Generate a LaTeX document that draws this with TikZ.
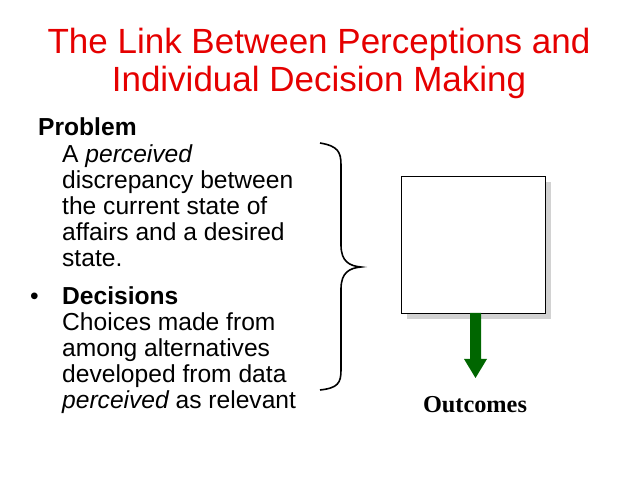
\documentclass[tikz,border=0pt]{standalone}
\usepackage{fontspec}
\setmainfont{Liberation Sans}
\newfontfamily\serif{Liberation Serif}
\begin{document}
\begin{tikzpicture}[x=1pt,y=-1pt,
  ttl/.style={text=red!90!black,font=\fontsize{35}{40}\selectfont,align=center},
  body/.style={anchor=base west,inner sep=0,font=\fontsize{24.6}{28}\selectfont}]
\useasboundingbox (0,0) rectangle (638,478);
\node[ttl] (t1) at (319,44) {The Link Between Perceptions and};
\node[ttl] (t2) at (319,82) {Individual Decision Making};
\node[body] (p) at (38,136) {\bfseries Problem};
\node[body] (l1) at (62,163) {A \itshape perceived};
\node[body] (l2) at (62,189) {discrepancy between};
\node[body] (l3) at (62,215) {the current state of};
\node[body] (l4) at (62,241) {affairs and a desired};
\node[body] (l5) at (62,267) {state.};
\node[body] (b) at (30,305) {•};
\node[body] (d) at (62,305) {\bfseries Decisions};
\node[body] (m1) at (62,331) {Choices made from};
\node[body] (m2) at (62,357) {among alternatives};
\node[body] (m3) at (62,383) {developed from data};
\node[body] (m4) at (62,409) {\itshape perceived\upshape{} as relevant};
\draw[line width=1.6pt] (320,143) .. controls (338,146) and (341,152) .. (341,165)
  -- (341,245) .. controls (341,262) and (350,266) .. (361,267)
  .. controls (350,268) and (341,272) .. (341,289) -- (341,370)
  .. controls (341,383) and (338,388) .. (320,390);
\fill[gray!35] (407,182) rectangle (551,319);
\node[draw,fill=white,line width=0.6pt,minimum width=144pt,minimum height=137pt,inner sep=0] (box) at (473,244.5) {};
\coordinate (tip) at (475.5,378);
\fill[green!40!black] (470,313) -- (481,313) -- (481,359) -- (487,359) -- (tip) -- (464,359) -- (470,359) -- cycle;
\node[font=\serif\bfseries\fontsize{24.3}{28}\selectfont] (o) at (475,405) {Outcomes};
\end{tikzpicture}
\end{document}
